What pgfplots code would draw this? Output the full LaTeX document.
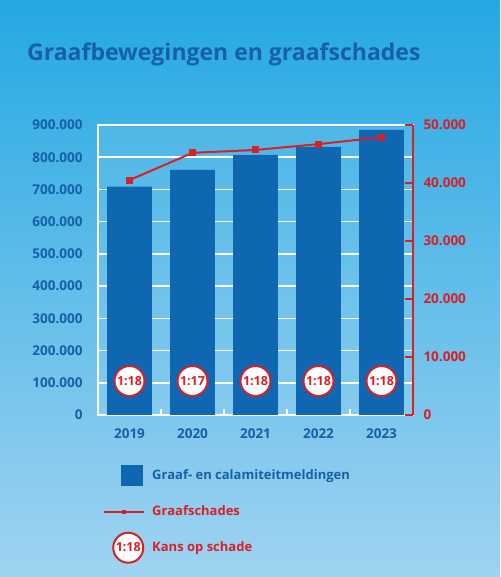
\documentclass[border=0pt]{standalone}
\usepackage{fontspec}
\setmainfont{Open Sans}
\usepackage{pgfplots}
\pgfplotsset{compat=1.18}

\definecolor{bgtop}{RGB}{36,168,226}
\definecolor{bgbot}{RGB}{160,211,241}
\definecolor{barblue}{RGB}{14,103,176}
\definecolor{txtblue}{RGB}{22,96,170}
\definecolor{schred}{RGB}{213,33,40}

\newcommand{\lblfont}{\bfseries\fontsize{13.5}{16}\selectfont}

\begin{document}
\begin{tikzpicture}
\shade[top color=bgtop, bottom color=bgbot] (0pt,0pt) rectangle (500pt,577pt);
\path[use as bounding box] (0pt,0pt) rectangle (500pt,577pt);
\node[anchor=base west, inner sep=0pt, text=txtblue,
      font=\bfseries\fontsize{23}{27}\selectfont] at (27pt,516pt)
     {Graafbewegingen en graafschades};

% meldingen (left axis)
\begin{axis}[
    at={(98pt,162pt)}, anchor=south west,
    scale only axis, width=315pt, height=290pt,
    xmin=-0.5, xmax=4.5, ymin=0, ymax=900000,
    xtick={0,1,2,3,4},
    xticklabels={2019,2020,2021,2022,2023},
    minor xtick={0.5,1.5,2.5,3.5},
    xtick pos=left, ytick pos=left,
    ytick={0,100000,...,900000},
    scaled y ticks=false,
    /pgf/number format/.cd, fixed, precision=0, 1000 sep={.}, assume math mode=true, /pgfplots/.cd,
    major tick length=0pt, minor tick length=6pt,
    minor tick style={white, line width=1.2pt},
    tick align=inside,
    ymajorgrids,
    major grid style={white, line width=1.5pt},
    axis line style={white, line width=1.5pt},
    axis background/.style={fill=white, fill opacity=0.08},
    ticklabel style={text=txtblue, font=\lblfont},
    yticklabel style={xshift=-12pt},
    xticklabel style={yshift=-10pt},
]
\addplot[ybar, bar width=0.714, bar shift=0pt, fill=barblue, draw=none, forget plot]
  coordinates {(0,709000) (1,761000) (2,807000) (3,832000) (4,885000)};
\addplot[only marks, mark=*, mark size=15pt,
    mark options={draw=schred, fill=white, line width=2pt},
    point meta=explicit symbolic,
    nodes near coords={\pgfplotspointmeta},
    every node near coord/.append style={anchor=center, text=schred,
        font=\bfseries\fontsize{12.5}{14}\selectfont},
    forget plot]
  table[meta=label] {
x y label
0 105500 1:18
1 105500 1:17
2 105500 1:18
3 105500 1:18
4 105500 1:18
};
\end{axis}

% schades (right axis)
\begin{axis}[
    at={(98pt,162pt)}, anchor=south west,
    scale only axis, width=315pt, height=290pt,
    xmin=-0.5, xmax=4.5, ymin=0, ymax=50000,
    axis x line=none,
    axis y line*=right,
    y axis line style={-, schred, line width=1.5pt},
    ytick={0,10000,...,50000},
    scaled y ticks=false,
    /pgf/number format/.cd, fixed, precision=0, 1000 sep={.}, assume math mode=true, /pgfplots/.cd,
    major tick length=8pt, tick align=inside,
    ytick style={schred, line width=1.5pt},
    yticklabel style={text=schred, font=\lblfont, xshift=7pt},
    legend cell align=left,
    legend style={at={(axis description cs:0.016,-0.1466)}, anchor=north west,
        draw=none, fill=none, inner sep=0pt, column sep=7pt, row sep=0pt,
        nodes={inner sep=0pt},
        font=\bfseries\fontsize{13}{15}\selectfont},
]
\addplot[schred, line width=2pt, mark=square*, mark size=2.5pt, forget plot]
  coordinates {(0,40500) (1,45200) (2,45700) (3,46700) (4,47900)};

\addlegendimage{legend image code/.code={
    \path[draw=none, fill=none] (0pt,-18pt) rectangle (40pt,18pt);
    \fill[barblue, draw=none] (17pt,-10.5pt) rectangle (39pt,10.5pt);}}
\addlegendentry{\textcolor{txtblue}{Graaf- en calamiteitmeldingen}}
\addlegendimage{legend image code/.code={
    \path[draw=none, fill=none] (0pt,-18pt) rectangle (40pt,18pt);
    \draw[schred, line width=2pt] (0pt,0pt) -- (40pt,0pt);
    \fill[schred, draw=none] (18pt,-2pt) rectangle (22pt,2pt);}}
\addlegendentry{\textcolor{schred}{Graafschades}}
\addlegendimage{legend image code/.code={
    \path[draw=none, fill=none] (0pt,-18pt) rectangle (40pt,18pt);
    \node[circle, anchor=center, draw=schred, line width=2pt, fill=white,
          minimum size=30pt, inner sep=0pt, text=schred,
          font=\bfseries\fontsize{12.5}{14}\selectfont]
          at (24pt,0pt) {1:18};}}
\addlegendentry{\textcolor{schred}{Kans op schade}}
\end{axis}
\end{tikzpicture}
\end{document}
